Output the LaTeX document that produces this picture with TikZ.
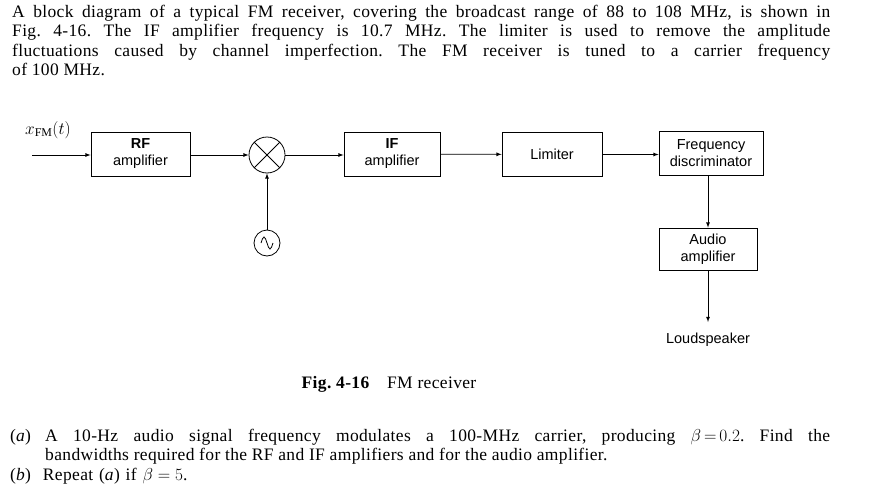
\documentclass[tikz,border=0pt]{standalone}
\usepackage{fontspec}
\setmainfont{Liberation Serif}[LetterSpace=2]
\newfontfamily\blockfont{Liberation Sans}
\usetikzlibrary{positioning}
\frenchspacing
\tikzset{
  blk/.style={draw, thick, minimum height=44pt, align=center, font=\blockfont\fontsize{14.5}{17}\selectfont, inner sep=1pt},
  sig/.style={thick, -latex},
  txt/.style={text width=818pt, align=justify, inner sep=0pt, anchor=north west, font=\fontsize{17.5}{19.3}\selectfont},
}
\begin{document}
\begin{tikzpicture}[x=1pt, y=-1pt]
\useasboundingbox (0,0) rectangle (869,503);
\node[txt] (intro) at (12,5) {A block diagram of a typical FM receiver, covering the broadcast range of 88 to 108 MHz, is shown in\linebreak Fig.~4-16. The IF amplifier frequency is 10.7~MHz. The limiter is used to remove the amplitude\linebreak fluctuations caused by channel imperfection. The FM receiver is tuned to a carrier frequency\linebreak of 100~MHz.};
% blocks
\node[blk, minimum width=99pt] (rf) at (140.5,154) {\textbf{RF}\\amplifier};
\node[draw, thick, circle, minimum size=36pt, inner sep=0pt] (mix) at (267,155) {};
\draw[thick] (mix.north west) -- (mix.south east) (mix.north east) -- (mix.south west);
\node[draw, thick, circle, minimum size=26pt, inner sep=0pt] (osc) at (267,243) {};
\draw[thick] (261,243) sin (264,237) cos (267,243) sin (270,249) cos (273,243);
\node[blk, minimum width=96pt] (if) at (392,154) {\textbf{IF}\\amplifier};
\node[blk, minimum width=100pt] (lim) at (552,154.5) {Limiter};
\node[blk, minimum width=104pt] (fd) at (711,153.5) {Frequency\\discriminator};
\node[blk, minimum width=98pt, minimum height=42pt] (aud) at (708,249) {Audio\\amplifier};
\coordinate (in) at (32,155);
\coordinate (out) at (708,322);
\node[font=\blockfont\fontsize{14.5}{17}\selectfont] (spk) at (708,340) {Loudspeaker};
\node[font=\fontsize{17}{18}\selectfont] (xfm) at (48,130) {$x_{\mathrm{FM}}(t)$};
% connectors
\draw[sig] (in) -- (rf.west |- in);
\draw[sig] (rf.east |- mix) -- (mix.west);
\draw[sig] (mix.east) -- (if.west |- mix);
\draw[sig] (osc) -- (mix);
\draw[sig] (if) -- (lim);
\draw[sig] (lim) -- (fd.west |- lim);
\draw[sig] (fd.south -| aud) -- (aud.north);
\draw[sig] (aud) -- (out);
\node[font=\fontsize{17.5}{19}\selectfont] (cap) at (389,384) {\textbf{Fig. 4-16}\quad FM receiver};
\node[txt, text width=785pt] (qa) at (45,429) {A 10-Hz audio signal frequency modulates a 100-MHz carrier, producing $\beta\,{=}\,0.2$. Find the\linebreak bandwidths required for the RF and IF amplifiers and for the audio amplifier.};
\node[txt, text width=30pt, align=left] (la) at (10,429) {(\textit{a})};
\node[txt, align=left] (qb) at (10,468) {(\textit{b})\hspace{12pt}Repeat (\textit{a}) if $\beta = 5$.};
\end{tikzpicture}
\end{document}
